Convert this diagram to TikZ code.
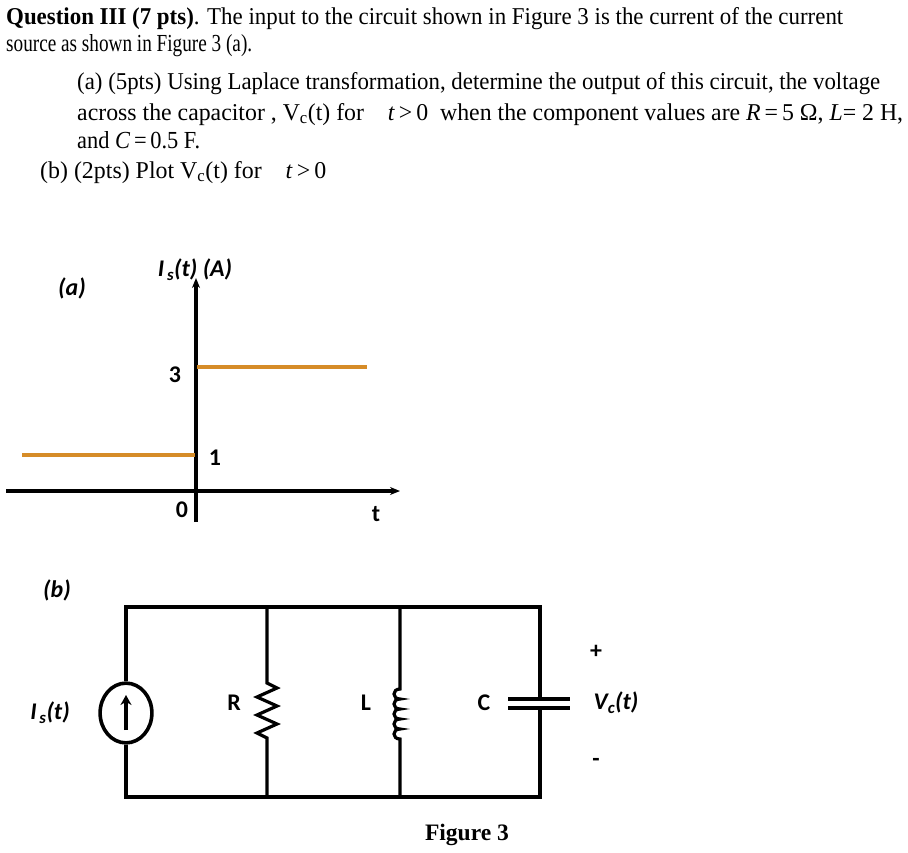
\documentclass[tikz,border=0pt]{standalone}
\usepackage{fontspec}
\setmainfont{Liberation Serif}
\newfontfamily\calfam{Carlito}
\usetikzlibrary{shapes.geometric,arrows.meta}
\newcommand{\myline}[2]{\resizebox{#1bp}{17bp}{#2}}
\begin{document}
\begin{tikzpicture}[x=1bp,y=-1bp,
  txt/.style={anchor=base west,inner sep=0pt,font=\fontsize{21}{24}\selectfont},
  lab/.style={inner sep=0pt,font=\calfam\bfseries\itshape\fontsize{24}{26}\selectfont},
  up/.style={inner sep=0pt,font=\calfam\bfseries\fontsize{24}{26}\selectfont},
  wire/.style={line width=3.2bp},
  ax/.style={line width=3.2bp,-{Stealth[length=10bp,width=8bp]}},
  lvl/.style={line width=3.4bp,draw={rgb,255:red,214;green,140;blue,40}}]
\useasboundingbox (0,0) rectangle (908,853);
\node[txt] (l1) at (6,24) {\myline{837}{\textbf{Question III (7 pts)}. The input to the circuit shown in Figure 3 is the current of the current}};
\node[txt] (l2) at (6,51) {\myline{246}{source as shown in Figure 3 (a).}};
\node[txt] (l3) at (77,89) {\myline{803}{(a) (5pts) Using Laplace transformation, determine the output of this circuit, the voltage}};
\node[txt] (l4) at (77,120) {\myline{826}{across the capacitor , V\textsubscript{c}(t) for\quad \textit{t}\,>\,0\ \ when the component values are \textit{R}\,=\,5 Ω, \textit{L}= 2 H,}};
\node[txt] (l5) at (77,148) {\myline{123}{and \textit{C}\,=\,0.5 F.}};
\node[txt] (l6) at (40,178) {\myline{286}{(b) (2pts) Plot V\textsubscript{c}(t) for\quad \textit{t}\,>\,0}};
% graph
\coordinate (yb) at (196,522); \coordinate (yt) at (196,278);
\coordinate (xl) at (6,491); \coordinate (xr) at (400,491);
\draw[ax] (yb) -- (yt);
\draw[ax] (xl) -- (xr);
\coordinate (a1) at (22,455); \coordinate (a2) at (195,455);
\coordinate (b1) at (197,367); \coordinate (b2) at (367,367);
\draw[lvl] (a1) -- (a2);
\draw[lvl] (b1) -- (b2);
\node[up] (n3) at (175,375) {3};
\node[up] (n1) at (215,458) {1};
\node[up] (n0) at (182,510) {0};
\node[up] (nt) at (376,514) {t};
\node[lab] (ya) at (195,270) {I\textsubscript{\,s}(t) (A)};
\node[lab] (pa) at (72,288) {(a)};
\node[lab] (pb) at (57,590) {(b)};
% circuit
\coordinate (tl) at (126,607); \coordinate (tr) at (540,607);
\coordinate (bl) at (126,797); \coordinate (br) at (540,797);
\node[draw,line width=3.6bp,ellipse,minimum width=52,minimum height=60,inner sep=0pt] (src) at (126,713) {};
\draw[wire] (src.north) -- (tl) -- (tr) -- (540,699);
\draw[wire] (src.south) -- (bl) -- (br) -- (540,708);
\draw[line width=3.2bp,-{Stealth[length=10bp,width=11bp]}] (126,730) -- (126,695);
\draw[line width=3.6bp] (508,699) -- (570,699) (508,708) -- (570,708);
% R
\draw[wire,line join=miter] (267,607) -- (267,683)
  -- (277,688) -- (257,697) -- (277,706) -- (257,715) -- (277,724) -- (257,733) -- (267,738) -- (267,797);
% L
\draw[wire] (400,607) -- (400,689)
  .. controls (392,689) and (392,699) .. (400,699)
  .. controls (392,699) and (392,709) .. (400,709)
  .. controls (392,709) and (392,719) .. (400,719)
  .. controls (392,719) and (392,729) .. (400,729)
  .. controls (392,729) and (392,739) .. (400,739)
  -- (400,797);
\node[up] (nR) at (234,703) {R};
\node[up] (nL) at (366,703) {L};
\node[up] (nC) at (484,703) {C};
\node[lab] (nV) at (616,703) {V\textsubscript{c}(t)};
\node[up] (np) at (596,652) {+};
\node[up] (nm) at (596,762) {-};
\node[lab] (nI) at (50,713) {I\textsubscript{\,s}(t)};
\node[inner sep=0pt,font=\bfseries\fontsize{22}{24}\selectfont] (fig) at (467,835) {\resizebox{84bp}{!}{Figure 3}};
\end{tikzpicture}
\end{document}
